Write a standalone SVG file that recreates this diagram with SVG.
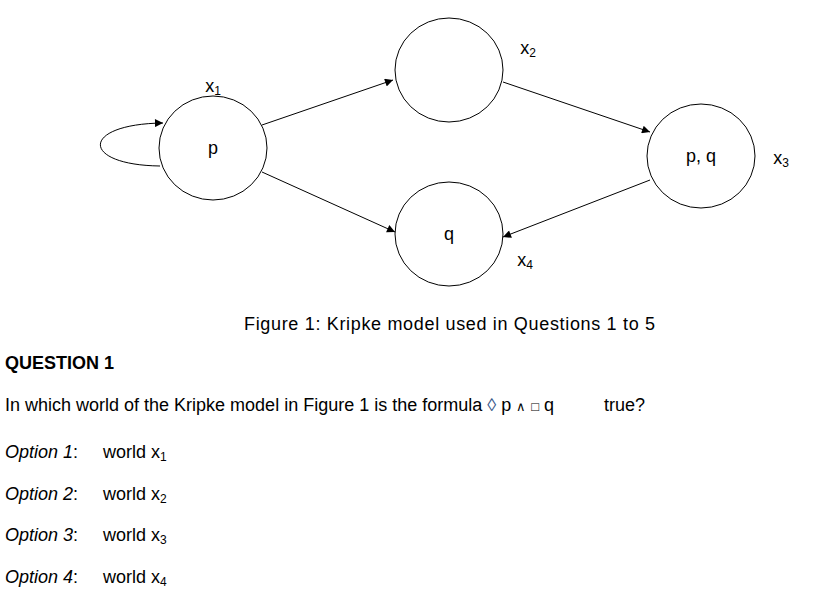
<svg xmlns="http://www.w3.org/2000/svg" width="832" height="597" viewBox="0 0 832 597">
<style>
text{font-family:"Liberation Sans",Arial,sans-serif;font-size:18px;fill:#000}
.n{fill:none;stroke:#000;stroke-width:1}
.e{fill:none;stroke:#000;stroke-width:1;marker-end:url(#a)}
.c{text-anchor:middle}
</style>
<defs><marker id="a" viewBox="0 0 10 10" refX="10" refY="5" markerWidth="11" markerHeight="8" orient="auto" markerUnits="userSpaceOnUse"><path d="M0,0L10,5L0,10z"/></marker></defs>
<rect width="832" height="597" fill="#fff"/>
<g id="connectors">
<path class="e" d="M160,166 C80,165 80,124 163,123"/>
<path class="e" d="M262,125 L393,80"/>
<path class="e" d="M503,82 L650,132"/>
<path class="e" d="M262,172 L395,232"/>
<path class="e" d="M650,180 L503,237"/>
</g>
<g id="x1"><ellipse class="n" cx="213" cy="148" rx="54" ry="52"/><text class="c" x="213" y="154">p</text><text class="c" x="213" y="92">x<tspan font-size="12" dy="3">1</tspan></text></g>
<g id="x2"><ellipse class="n" cx="449" cy="70" rx="54" ry="52"/><text class="c" x="528" y="54">x<tspan font-size="12" dy="3">2</tspan></text></g>
<g id="x3"><ellipse class="n" cx="701" cy="156" rx="54" ry="52"/><text class="c" x="701" y="162">p, q</text><text class="c" x="781" y="164">x<tspan font-size="12" dy="3">3</tspan></text></g>
<g id="x4"><ellipse class="n" cx="449" cy="234" rx="54" ry="52"/><text class="c" x="449" y="240">q</text><text class="c" x="525" y="266">x<tspan font-size="12" dy="3">4</tspan></text></g>
<text x="244" y="330" textLength="411">Figure 1:  Kripke model used in Questions 1 to 5</text>
<text x="5" y="369" font-weight="bold">QUESTION 1</text>
<text x="5" y="411">In which world of the Kripke model in Figure 1 is the formula <tspan fill="#3a5a8a">◊</tspan> p <tspan font-size="13">∧</tspan> <tspan font-size="13">□</tspan> q <tspan x="604">true?</tspan></text>
<text x="5" y="458"><tspan font-style="italic">Option 1</tspan>:<tspan x="103">world x</tspan><tspan font-size="12" dy="3">1</tspan></text>
<text x="5" y="500"><tspan font-style="italic">Option 2</tspan>:<tspan x="103">world x</tspan><tspan font-size="12" dy="3">2</tspan></text>
<text x="5" y="541"><tspan font-style="italic">Option 3</tspan>:<tspan x="103">world x</tspan><tspan font-size="12" dy="3">3</tspan></text>
<text x="5" y="583"><tspan font-style="italic">Option 4</tspan>:<tspan x="103">world x</tspan><tspan font-size="12" dy="3">4</tspan></text>
</svg>
